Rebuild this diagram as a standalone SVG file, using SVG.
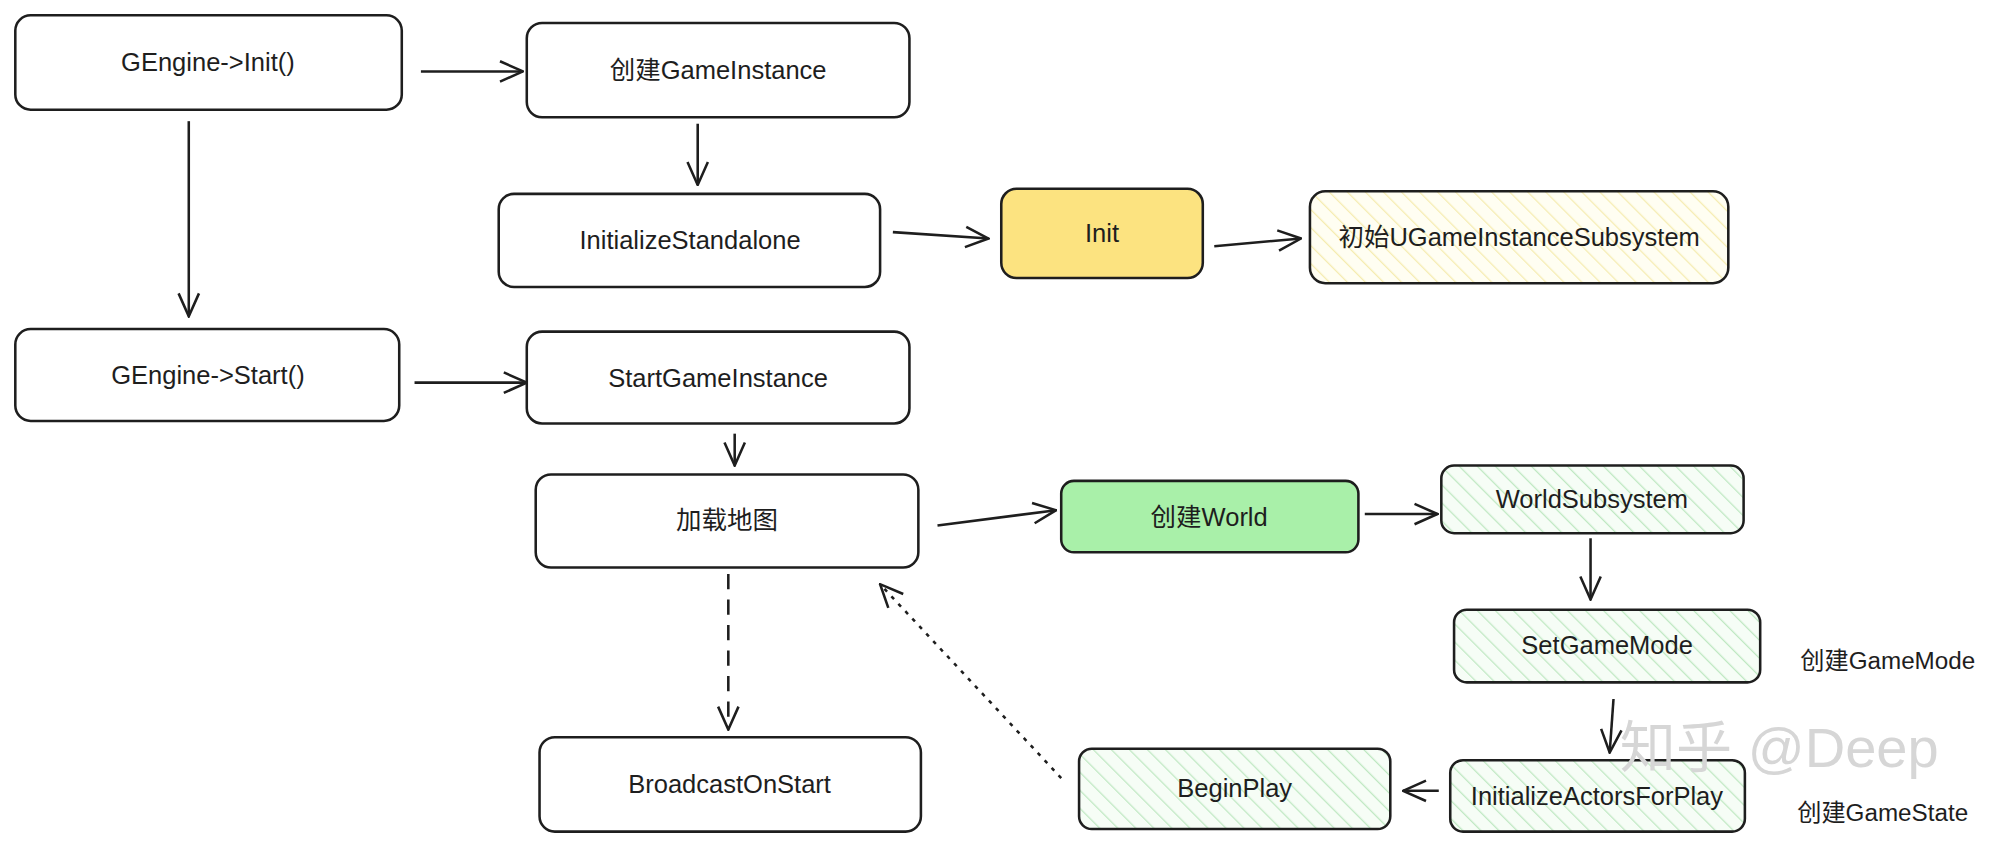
<svg xmlns="http://www.w3.org/2000/svg" width="2000" height="848" viewBox="0 0 2000 848">
<style>
.n{fill:#fff;stroke:#1e1e1e;stroke-width:2}
.t{font-family:"Liberation Sans","Noto Sans CJK SC",sans-serif;font-size:20px;fill:#1e1e1e;text-anchor:middle;dominant-baseline:central}
.c{fill:none;stroke:#1e1e1e;stroke-width:2}
</style>
<defs>
<pattern id="hy" width="10" height="10" patternUnits="userSpaceOnUse" patternTransform="rotate(-45)"><rect width="10" height="10" fill="#fffef2"/><line x1="0" y1="0" x2="0" y2="10" stroke="#f5ecb0" stroke-width="2"/></pattern>
<pattern id="hg" width="10" height="10" patternUnits="userSpaceOnUse" patternTransform="rotate(-45)"><rect width="10" height="10" fill="#f6fdf6"/><line x1="0" y1="0" x2="0" y2="10" stroke="#bfe8c2" stroke-width="2"/></pattern>
<marker id="a" viewBox="0 0 20 20" refX="19" refY="10" markerWidth="20" markerHeight="20" markerUnits="userSpaceOnUse" orient="auto"><path d="M1,2 L19,10 L1,18" fill="none" stroke="#1e1e1e" stroke-width="2"/></marker>
</defs>
<rect width="2000" height="848" fill="#fff"/>
<g transform="scale(1.2755)">
<g id="n1"><rect class="n" x="12" y="12" width="303" height="74" rx="12"/><text class="t" x="163" y="49">GEngine-&gt;Init()</text></g>
<g id="n2"><rect class="n" x="413" y="18" width="300" height="74" rx="12"/><text class="t" x="563" y="55">创建GameInstance</text></g>
<g id="n3"><rect class="n" x="391" y="152" width="299" height="73" rx="12"/><text class="t" x="541" y="188">InitializeStandalone</text></g>
<g id="n4"><rect class="n" x="785" y="148" width="158" height="70" rx="12" style="fill:#fce380"/><text class="t" x="864" y="183">Init</text></g>
<g id="n5"><rect class="n" x="1027" y="150" width="328" height="72" rx="12" style="fill:url(#hy)"/><text class="t" x="1191" y="186">初始UGameInstanceSubsystem</text></g>
<g id="n6"><rect class="n" x="12" y="258" width="301" height="72" rx="12"/><text class="t" x="163" y="294">GEngine-&gt;Start()</text></g>
<g id="n7"><rect class="n" x="413" y="260" width="300" height="72" rx="12"/><text class="t" x="563" y="296">StartGameInstance</text></g>
<g id="n8"><rect class="n" x="420" y="372" width="300" height="73" rx="12"/><text class="t" x="570" y="408">加载地图</text></g>
<g id="n9"><rect class="n" x="832" y="377" width="233" height="56" rx="10" style="fill:#a9f0a9"/><text class="t" x="948" y="405">创建World</text></g>
<g id="n10"><rect class="n" x="1130" y="365" width="237" height="53" rx="10" style="fill:url(#hg)"/><text class="t" x="1248" y="391">WorldSubsystem</text></g>
<g id="n11"><rect class="n" x="1140" y="478" width="240" height="57" rx="10" style="fill:url(#hg)"/><text class="t" x="1260" y="506">SetGameMode</text></g>
<g id="n12"><rect class="n" x="1137" y="596" width="231" height="56" rx="10" style="fill:url(#hg)"/><text class="t" x="1252" y="624">InitializeActorsForPlay</text></g>
<g id="n13"><rect class="n" x="846" y="587" width="244" height="63" rx="10" style="fill:url(#hg)"/><text class="t" x="968" y="618">BeginPlay</text></g>
<g id="n14"><rect class="n" x="423" y="578" width="299" height="74" rx="12"/><text class="t" x="572" y="615">BroadcastOnStart</text></g>
<text class="t" x="1480" y="518" style="font-size:19px">创建GameMode</text>
<text class="t" x="1476" y="637" style="font-size:19px">创建GameState</text>
<text class="t" x="1395" y="586" style="font-size:44px;fill:#d6d6d6">知乎 @Deep</text>
<g id="connectors">
<path class="c" d="M330,56 L410,56" marker-end="url(#a)"/>
<path class="c" d="M148,95 L148,248" marker-end="url(#a)"/>
<path class="c" d="M547,97 L547,145" marker-end="url(#a)"/>
<path class="c" d="M700,182 L775,187" marker-end="url(#a)"/>
<path class="c" d="M952,193 L1020,187" marker-end="url(#a)"/>
<path class="c" d="M325,300 L413,300" marker-end="url(#a)"/>
<path class="c" d="M576,340 L576,365" marker-end="url(#a)"/>
<path class="c" d="M735,412 L828,400" marker-end="url(#a)"/>
<path class="c" d="M1070,403 L1127,403" marker-end="url(#a)"/>
<path class="c" d="M1247,422 L1247,470" marker-end="url(#a)"/>
<path class="c" d="M1265,548 L1262,590" marker-end="url(#a)"/>
<path class="c" d="M1128,620 L1100,620" marker-end="url(#a)"/>
<path class="c" d="M571,450 L571,572" stroke-dasharray="12 8" marker-end="url(#a)"/>
<path class="c" d="M832,610 L690,458" stroke-dasharray="3 5" marker-end="url(#a)"/>
</g>
</g>
</svg>
